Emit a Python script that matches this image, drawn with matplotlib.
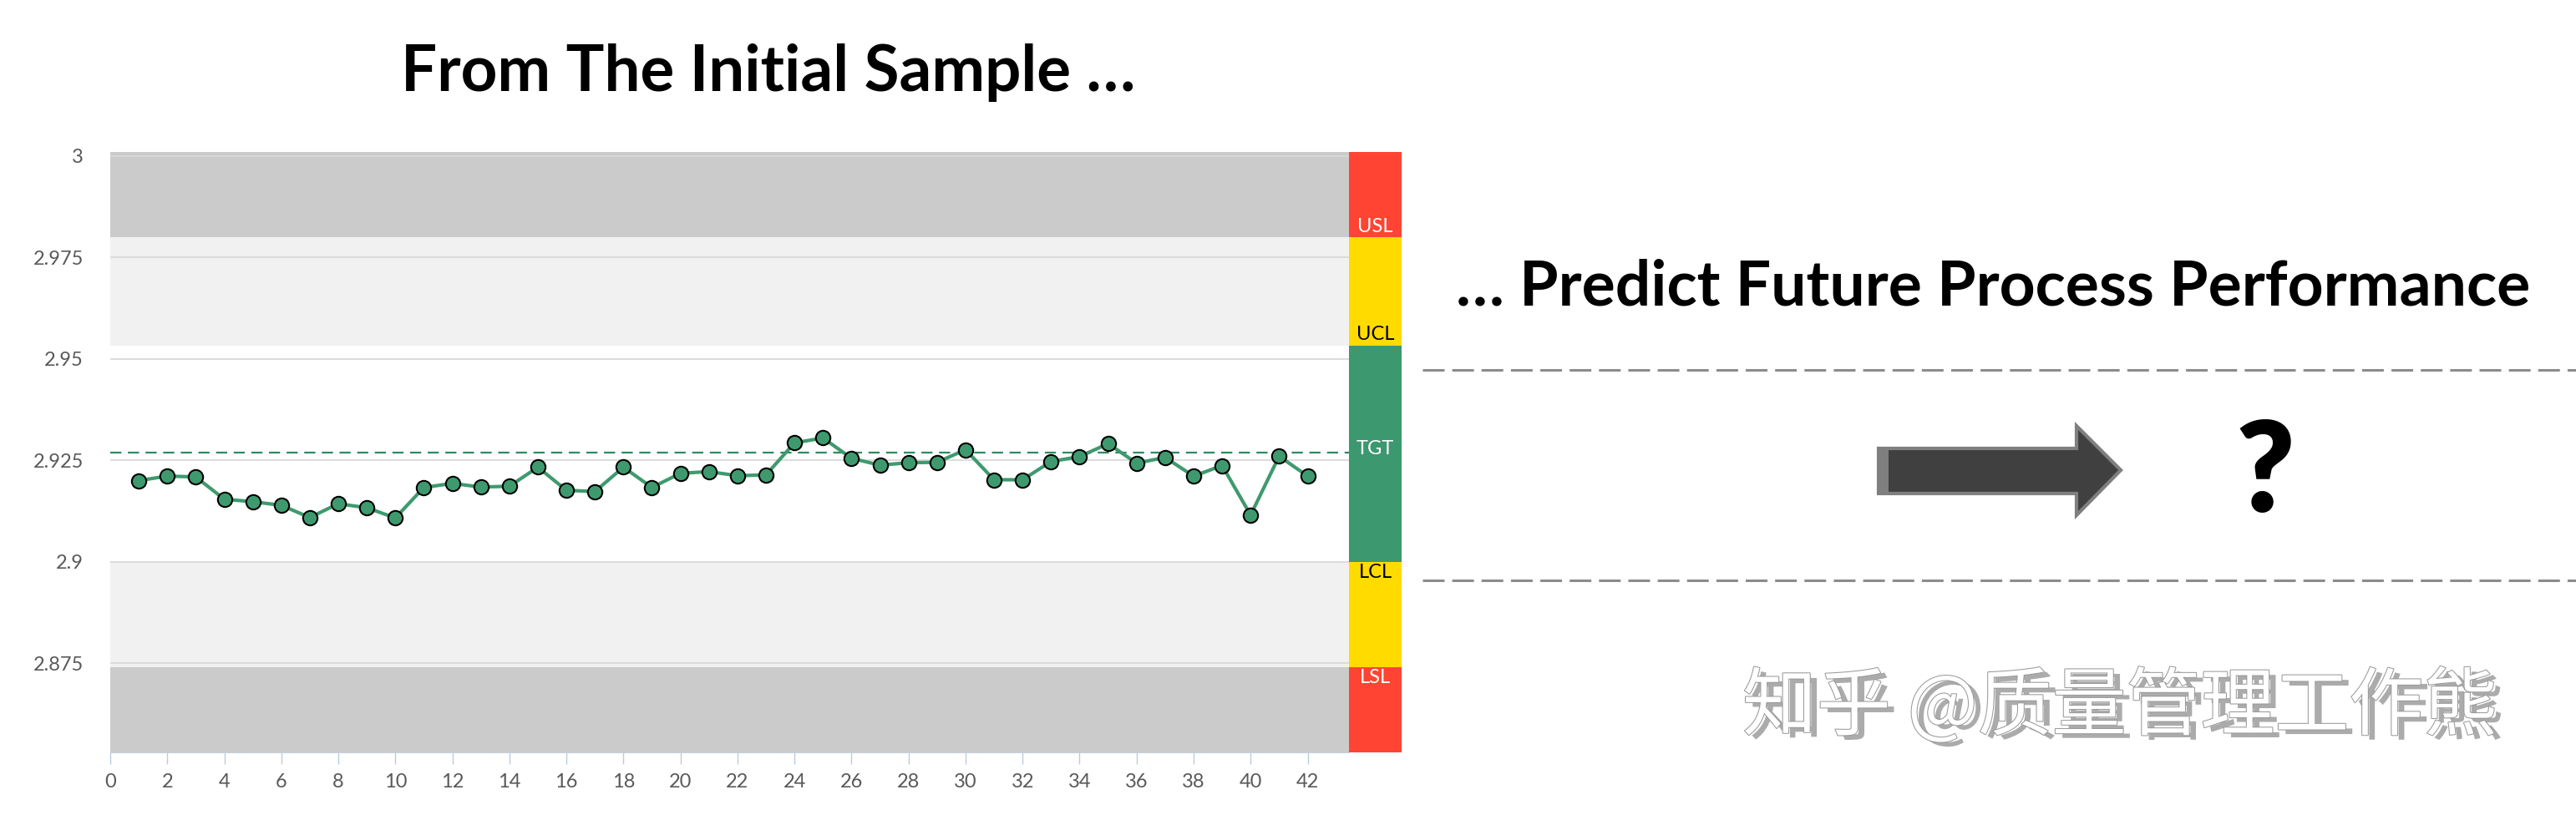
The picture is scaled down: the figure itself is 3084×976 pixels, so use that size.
import matplotlib
matplotlib.use('Agg')
import matplotlib.pyplot as plt
import matplotlib.patheffects as pe
from matplotlib.patches import Polygon, Rectangle

# process data
samples = list(range(1, 43))
values = [2.9200, 2.9211, 2.9209, 2.9154, 2.9148, 2.9139, 2.9109, 2.9143, 2.9133, 2.9108,
          2.9183, 2.9193, 2.9184, 2.9186, 2.9233, 2.9176, 2.9173, 2.9233, 2.9183, 2.9218,
          2.9222, 2.9212, 2.9214, 2.9293, 2.9305, 2.9255, 2.9238, 2.9244, 2.9245, 2.9276,
          2.9202, 2.9202, 2.9247, 2.9259, 2.9291, 2.9243, 2.9257, 2.9211, 2.9237, 2.9115,
          2.9260, 2.9211]

usl, ucl, tgt, lcl, lsl = 2.98, 2.9533, 2.927, 2.9, 2.874
y_min, y_max = 2.853, 3.001
y_ticks = [2.875, 2.9, 2.925, 2.95, 2.975, 3]
y_labels = ['2.875', '2.9', '2.925', '2.95', '2.975', '3']
x_ticks = list(range(0, 43, 2))
zone_names = ['USL', 'UCL', 'TGT', 'LCL', 'LSL']

plt.rcParams['font.family'] = ['Lato', 'DejaVu Sans']

W, H = 3084, 976
fig = plt.figure(figsize=(W / 100, H / 100), dpi=100)

# main control chart
ax = fig.add_axes([132 / W, 1 - 901 / H, (1615 - 132) / W, (901 - 182) / H])
ax.set_xlim(0, 43.45)
ax.set_ylim(y_min, y_max)
ax.axhspan(usl, y_max, color='#CBCBCB', lw=0, zorder=0)
ax.axhspan(ucl, usl, color='#F1F1F1', lw=0, zorder=0)
ax.axhspan(lsl, lcl, color='#F1F1F1', lw=0, zorder=0)
ax.axhspan(y_min, lsl, color='#CBCBCB', lw=0, zorder=0)
for y in y_ticks:
    ax.axhline(y, color='#D9D9D9', lw=1.3, zorder=1)
ax.axhline(tgt, color='#2F8A60', lw=1.6, ls=(0, (6, 3.5)), zorder=2)
ax.plot(samples, values, color='#3E9A6E', lw=3, marker='o', ms=12.5,
        mfc='#3E9A6E', mec='black', mew=1.5, zorder=3)

for s in ['top', 'right', 'left']:
    ax.spines[s].set_visible(False)
ax.spines['bottom'].set_color('#C5D0DB')
ax.set_yticks(y_ticks, y_labels)
ax.set_xticks(x_ticks)
ax.tick_params(axis='y', length=0, pad=23, labelsize=17, labelcolor='#595959')
ax.tick_params(axis='x', length=10, width=1, color='#BCCCDC', labelsize=17,
               labelcolor='#595959', pad=8)

# zone bar on the right
bx = fig.add_axes([1615 / W, 1 - 901 / H, 63 / W, (901 - 182) / H])
bx.set_xlim(0, 1)
bx.set_ylim(y_min, y_max)
bx.axis('off')
red, yellow, green = '#FF4433', '#FFDB00', '#3C986F'
bx.axhspan(usl, y_max, color=red, lw=0)
bx.axhspan(ucl, usl, color=yellow, lw=0)
bx.axhspan(lcl, ucl, color=green, lw=0)
bx.axhspan(lsl, lcl, color=yellow, lw=0)
bx.axhspan(y_min, lsl, color=red, lw=0)
bx.text(0.5, usl + 0.0005, zone_names[0], ha='center', va='bottom', color='white', fontsize=17)
bx.text(0.5, ucl + 0.0005, zone_names[1], ha='center', va='bottom', color='black', fontsize=17)
bx.text(0.5, tgt + 0.0009, zone_names[2], ha='center', va='center', color='white', fontsize=17)
bx.text(0.5, lcl - 0.0004, zone_names[3], ha='center', va='top', color='black', fontsize=17)
bx.text(0.5, lsl - 0.0004, zone_names[4], ha='center', va='top', color='white', fontsize=17)

# overlay in pixel coordinates for titles, arrow and watermark
ov = fig.add_axes([0, 0, 1, 1])
ov.set_xlim(0, W)
ov.set_ylim(H, 0)
ov.axis('off')
ov.patch.set_alpha(0)

ov.text(920, 109, 'From The Initial Sample …', ha='center', va='baseline',
        fontsize=55, fontweight='bold', color='black')
ov.text(2386, 366, '… Predict Future Process Performance', ha='center', va='baseline',
        fontsize=54, fontweight='bold', color='black')

for yy in [443, 695]:
    ov.plot([1703, W], [yy, yy], color='#8C8C8C', lw=2.2, ls=(0, (8.5, 3)))

arrow = Polygon([(2249, 537), (2486, 537), (2486, 510), (2539, 563), (2486, 617),
                 (2486, 591), (2249, 591)], closed=True, fc='#404040', ec='#7F7F7F', lw=3)
ov.add_patch(arrow)
ov.add_patch(Rectangle((2249, 537), 12, 54, fc='#7F7F7F', lw=0))

ov.text(2712, 613, '?', ha='center', va='baseline', fontsize=108, fontweight='heavy', color='black')

ov.text(2538, 848, '知乎 @质量管理工作熊', ha='center', va='center', fontsize=64,
        color='white', family=['Noto Sans CJK SC', 'DejaVu Sans'],
        path_effects=[pe.SimplePatchShadow(offset=(6, -4), shadow_rgbFace='#ABABAB', alpha=1.0),
                      pe.Stroke(linewidth=1.5, foreground='#9A9A9A'), pe.Normal()])

fig.savefig('out.png', dpi=100)
